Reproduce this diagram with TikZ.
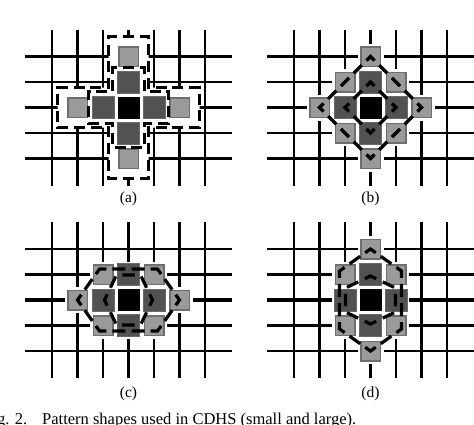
\documentclass[tikz,border=0pt]{standalone}
\usepackage{fontspec}
\setmainfont{Liberation Serif}
\definecolor{lightsq}{HTML}{9A9A9A}
\definecolor{lightbd}{HTML}{6E6E6E}
\definecolor{darksq}{HTML}{525252}
\definecolor{darkbd}{HTML}{6A6A6A}
\tikzset{
  gridline/.style={line width=2.7pt},
  midline/.style={line width=3.8pt},
  lsq/.style={fill=lightsq, draw=lightbd, line width=1.5pt},
  dsq/.style={fill=darksq, draw=darkbd, line width=1pt},
  bsq/.style={fill=black},
  contour/.style={line width=3.2pt, line join=miter},
  lbl/.style={font=\fontsize{15.5}{18}\selectfont, inner sep=0pt},
  captext/.style={font=\fontsize{16.5}{19}\selectfont, inner sep=0pt},
}
\newcommand\pgrid{%
  \foreach \k in {-3,...,3}{\draw[gridline] (\k*25.5,-78) -- (\k*25.5,78);}
  \draw[midline] (0,-78) -- (0,78);
  \foreach \k in {-2,...,2}{\draw[gridline] (-103.5,\k*25.5) -- (103.5,\k*25.5);}
  \draw[midline] (-103.5,0) -- (103.5,0);
}
\newcommand\halocell[2]{\fill[white] ({#1*25.5-13},{#2*25.5-13}) rectangle ({#1*25.5+13},{#2*25.5+13});}
\newcommand\lcell[2]{\halocell{#1}{#2}\path[lsq] ({#1*25.5-9.75},{#2*25.5-9.75}) rectangle ({#1*25.5+9.75},{#2*25.5+9.75});}
\newcommand\dcell[2]{\halocell{#1}{#2}\path[dsq] ({#1*25.5-11},{#2*25.5-11}) rectangle ({#1*25.5+11},{#2*25.5+11});}
\newcommand\bcell{\halocell{0}{0}\path[bsq] (-11,-11) rectangle (11,11);}
\newcommand\centercells{\bcell\dcell{-1}{0}\dcell{1}{0}\dcell{0}{-1}\dcell{0}{1}}
\begin{document}
\begin{tikzpicture}[x=1pt,y=-1pt]
\path[use as bounding box, fill=white] (0,0) rectangle (474,424);
\clip (0,0) rectangle (474,424);
% ---------- (a)
\begin{scope}[shift={(128.5,107.5)}]
  \pgrid
  \fill[white] (-20,-71) -- (20,-71) -- (20,-20) -- (71,-20) -- (71,20) -- (20,20) -- (20,71) -- (-20,71) -- (-20,20) -- (-71,20) -- (-71,-20) -- (-20,-20) -- cycle;
  \centercells
  \lcell{-2}{0}\lcell{2}{0}\lcell{0}{-2}\lcell{0}{2}
  \draw[contour, dash pattern=on 11pt off 5.84pt, dash phase=5.5pt]
    (0,-40) -- (16,-40) -- (16,-16) -- (40,-16) -- (40,16) -- (16,16) -- (16,40) -- (-16,40) -- (-16,16) -- (-40,16) -- (-40,-16) -- (-16,-16) -- (-16,-40) -- cycle;
  \draw[contour, dash pattern=on 11pt off 5.7pt, dash phase=5.5pt]
    (0,-71) -- (20,-71) -- (20,-20) -- (71,-20) -- (71,20) -- (20,20) -- (20,71) -- (-20,71) -- (-20,20) -- (-71,20) -- (-71,-20) -- (-20,-20) -- (-20,-71) -- cycle;
\end{scope}
\node[lbl] (la) at (128.5,198.5) {(a)};
% ---------- (b)
\begin{scope}[shift={(370.5,107.5)}]
  \pgrid
  \fill[white] (0,-51) -- (51,0) -- (0,51) -- (-51,0) -- cycle;
  \centercells
  \lcell{-1}{-1}\lcell{1}{-1}\lcell{-1}{1}\lcell{1}{1}
  \lcell{-2}{0}\lcell{2}{0}\lcell{0}{-2}\lcell{0}{2}
  \draw[contour, dash pattern=on 11.5pt off 6.53pt, dash phase=5.75pt]
    (12.75,-12.75) -- (25.5,0) -- (0,25.5) -- (-25.5,0) -- (0,-25.5) -- cycle;
  \draw[contour, dash pattern=on 11.5pt off 6.53pt, dash phase=5.75pt]
    (25.5,-25.5) -- (51,0) -- (0,51) -- (-51,0) -- (0,-51) -- cycle;
\end{scope}
\node[lbl] (lb) at (370.5,198.5) {(b)};
% ---------- (c)
\begin{scope}[shift={(128.5,300)}]
  \pgrid
  \fill[white] (-29,-31) -- (29,-31) -- (51,0) -- (29,31) -- (-29,31) -- (-51,0) -- cycle;
  \centercells
  \lcell{-1}{-1}\lcell{1}{-1}\lcell{-1}{1}\lcell{1}{1}
  \lcell{-2}{0}\lcell{2}{0}
  \draw[contour, dash pattern=on 12.5pt off 7.37pt, dash phase=6.25pt]
    (0,-25) -- (12,-25) -- (24,0) -- (12,25) -- (-12,25) -- (-24,0) -- (-12,-25) -- cycle;
  \draw[contour, dash pattern=on 13pt off 6.146pt, dash phase=16.07pt]
    (0,-31) -- (29,-31) -- (51,0) -- (29,31) -- (-29,31) -- (-51,0) -- (-29,-31) -- cycle;
\end{scope}
\node[lbl] (lc) at (128.5,394) {(c)};
% ---------- (d)
\begin{scope}[shift={(370.5,300)}]
  \pgrid
  \fill[white] (-31,-29) -- (0,-51) -- (31,-29) -- (31,29) -- (0,51) -- (-31,29) -- cycle;
  \centercells
  \lcell{-1}{-1}\lcell{1}{-1}\lcell{-1}{1}\lcell{1}{1}
  \lcell{0}{-2}\lcell{0}{2}
  \draw[contour, dash pattern=on 12.5pt off 7.37pt, dash phase=6.25pt]
    (-25,0) -- (-25,-12) -- (0,-24) -- (25,-12) -- (25,12) -- (0,24) -- (-25,12) -- cycle;
  \draw[contour, dash pattern=on 13pt off 6.146pt, dash phase=16.07pt]
    (-31,0) -- (-31,-29) -- (0,-51) -- (31,-29) -- (31,29) -- (0,51) -- (-31,29) -- cycle;
\end{scope}
\node[lbl] (ld) at (370.5,394) {(d)};
% ---------- caption
\node[captext, anchor=base east] (fig) at (27.5,424.5) {Fig. 2.};
\node[captext, anchor=base west] (caption) at (42,424.5) {Pattern shapes used in CDHS (small and large).};
\end{tikzpicture}
\end{document}
